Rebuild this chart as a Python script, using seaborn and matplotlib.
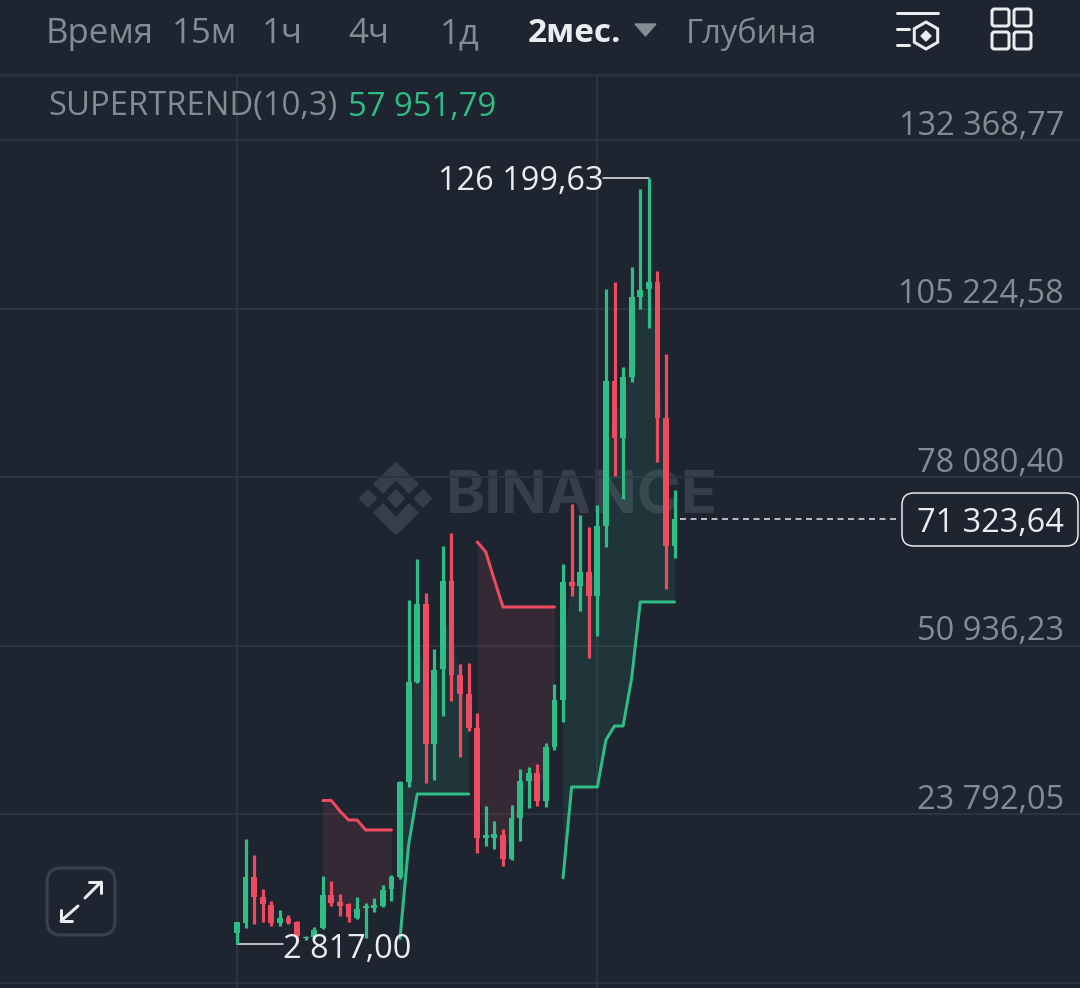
import numpy as np
import pandas as pd
import seaborn as sns
import matplotlib.pyplot as plt
from matplotlib.patches import FancyBboxPatch, Polygon, RegularPolygon

BG = "#1f2530"
GRID = "#2d333e"
GREEN = "#2ebd85"
RED = "#ee4a60"
GREY = "#858b95"
WHITE = "#eaecef"

# candles, one value per 2 month bar
opens = [4625, 6236, 13646, 10424, 9136, 6236, 7041, 6397, 3739, 3981,
         5430, 10746, 9619, 9297, 7041, 8653, 8653, 8975, 11713, 13646,
         28950, 45059, 57624, 35071, 47153, 61329, 46187, 43126, 37648, 19929,
         19929, 20412, 16546, 23150, 29111, 30400, 25889, 34588, 42159, 61168,
         60524, 62778, 58912, 70189, 93547, 84365, 94191, 107078, 108368, 109495,
         87586, 66967]
highs = [6397, 19767, 17190, 11713, 9780, 8330, 7525, 6500, 4142, 5592,
         13807, 13002, 10907, 9458, 10424, 9458, 10263, 12357, 13968, 29111,
         58268, 64873, 59396, 50375, 66967, 69061, 47959, 48120, 40065, 25083,
         22667, 21378, 25244, 31044, 31366, 31849, 35232, 44737, 64067, 73733,
         71961, 70028, 73572, 108368, 109495, 95802, 111911, 124476, 126199.63, 111266,
         97896, 75988]
lows = [2817, 5430, 6075, 6397, 5753, 5753, 6100, 3175, 3497, 3658,
        5269, 8975, 7364, 6397, 6880, 3739, 8008, 8814, 9780, 13324,
        28144, 44900, 28789, 29272, 39582, 41998, 32977, 37165, 17512, 18640,
        18156, 15418, 16400, 19445, 24761, 25083, 24922, 34105, 38615, 58912,
        56496, 48925, 52467, 66806, 78243, 74538, 93386, 105145, 102085, 80498,
        60040, 65034]
closes = [6397, 13646, 10424, 9297, 6236, 7041, 6236, 4142, 3981, 5108,
          10746, 9458, 8975, 7203, 8491, 8975, 9136, 11552, 13646, 28950,
          45059, 57624, 35071, 46992, 61329, 46187, 43126, 37648, 19929, 20412,
          20573, 16546, 23150, 29111, 30400, 25889, 34588, 42159, 61168, 60524,
          62778, 58912, 70189, 93547, 84365, 94191, 107078, 108206, 109495, 87586,
          66967, 71323.64]

# supertrend runs: first bar, direction, values
st_runs = [
    (10, "down", [25970, 25970, 24270, 22828, 22828, 21217, 21217, 21217, 21217]),
    (19, "up", [3739, 18801, 27016, 27016, 27016, 27016, 27016, 27016, 27016]),
    (28, "down", [67611, 66000, 61490, 57140, 57140, 57140, 57140, 57140, 57140, 57140]),
    (38, "up", [13485, 28144, 28144, 28144, 28144, 35715, 37970, 37970, 45703,
                57951.79, 57951.79, 57951.79, 57951.79, 57951.79]),
]

price_ticks = [132368.77, 105224.58, 78080.40, 50936.23, 23792.05, -3352.13]
price_labels = ["132 368,77", "105 224,58", "78 080,40", "50 936,23", "23 792,05"]
time_lines = [0, 42]
menu_items = ["Время", "15м", "1ч", "4ч", "1д", "2мес.", "Глубина"]
menu_x = [46, 172, 262, 348, 440, 528, 686]
menu_size = [25, 25, 25, 25, 25, 24, 23.6]

df = pd.DataFrame({"open": opens, "high": highs, "low": lows, "close": closes})
df["bar"] = df.index
df["color"] = np.where(df["close"] >= df["open"], GREEN, RED)
df["mid"] = (df["open"] + df["close"]) / 2

sns.set_theme(style="dark", rc={"figure.facecolor": BG, "axes.facecolor": BG})
plt.rcParams["font.family"] = ["Open Sans", "DejaVu Sans"]

fig = plt.figure(figsize=(10.8, 9.88), dpi=100)
px = 0.72  # one image pixel in points


def pixel_axes(z):
    a = fig.add_axes([0, 0, 1, 1], zorder=z)
    a.set_xlim(0, 1080)
    a.set_ylim(988, 0)
    a.axis("off")
    return a


back = pixel_axes(0)
ax = fig.add_axes([0, 0, 1, 1], zorder=1)
front = pixel_axes(2)

ax.patch.set_alpha(0)
ax.set_xlim(-27.62, 98.25)
ax.set_ylim(-4235, 154921.6)
ax.set_xticks([])
ax.set_yticks([])
for s in ax.spines.values():
    s.set_visible(False)

# grid
for p in price_ticks:
    ax.axhline(p, color=GRID, lw=2 * px, zorder=0)
for b in time_lines:
    ax.plot([b, b], [-4235, 142850], color=GRID, lw=2 * px, zorder=0)

# watermark
mark = "#383e49"
back.text(445, 498, "BINANCE", color=mark, fontsize=43, fontweight="bold", family="Inter", va="center", ha="left")
for cx, h in [(368, 8.5), (396, 8.5), (423, 8.5)]:
    back.add_patch(Polygon([(cx - h, 498.5), (cx, 498.5 - h), (cx + h, 498.5), (cx, 498.5 + h)], color=mark))
for sgn in (1, -1):
    chev = [(396, 498.5 - 36 * sgn), (418, 498.5 - 14 * sgn), (409, 498.5 - 5.5 * sgn), (396, 498.5 - 19 * sgn),
            (383, 498.5 - 5.5 * sgn), (374, 498.5 - 14 * sgn)]
    back.add_patch(Polygon(chev, color=mark))

# supertrend with its shading up to the candle body middle
for start, direction, values in st_runs:
    bars = np.arange(start, start + len(values))
    color = GREEN if direction == "up" else RED
    ax.fill_between(bars, values, df["mid"].values[bars], color=color, alpha=0.11, lw=0, zorder=1)
    sns.lineplot(x=bars, y=values, color=color, lw=3 * px, ax=ax, zorder=2, errorbar=None, estimator=None)

# candles
ax.vlines(df["bar"], df["low"], df["high"], colors=df["color"], lw=3.2 * px, zorder=3)
ax.bar(df["bar"], (df["close"] - df["open"]).abs(), bottom=df[["open", "close"]].min(axis=1),
       width=0.68, color=df["color"], lw=0, zorder=4)

# extreme labels, last price
ax.plot([42.6, 48], [126199.63, 126199.63], color=WHITE, lw=1.5 * px, zorder=2)
ax.plot([0, 5.4], [2817, 2817], color=WHITE, lw=1.5 * px, zorder=2)
ax.plot([51.6, 77.2], [71323.64, 71323.64], color=WHITE, lw=1.5 * px, ls=(0, (4, 3)), zorder=2)

fs = 23.4
front.text(604, 182, "126 199,63", color=WHITE, fontsize=fs, ha="right", va="center")
front.text(283, 949, "2 817,00", color=WHITE, fontsize=fs, ha="left", va="center")
for p, lab in zip(price_ticks, price_labels):
    y = (154921.6 - p) / 161.09
    front.text(1064, y - 14, lab, color=GREY, fontsize=fs, ha="right", va="center")

front.add_patch(FancyBboxPatch((902, 493), 176, 53, boxstyle="round,pad=0,rounding_size=12",
                               fc=BG, ec=WHITE, lw=1.5 * px))
front.text(1064, 523, "71 323,64", color=WHITE, fontsize=fs, ha="right", va="center")

front.text(48, 107, "SUPERTREND(10,3)", color=GREY, fontsize=23.6, ha="left", va="center")
front.text(348, 107, "57 951,79", color=GREEN, fontsize=23.6, ha="left", va="center")

# menu bar
for x, label, size in zip(menu_x, menu_items, menu_size):
    active = label == "2мес."
    front.text(x, 34, label, color=WHITE if active else GREY, fontsize=size,
               fontweight="bold" if active else "normal", ha="left", va="center")
front.add_patch(Polygon([(635, 24), (656, 24), (645.5, 36)], color=GREY))
back.plot([0, 1080], [75, 75], color="#292f3a", lw=3 * px)

# icons
lw_icon = 3 * px
front.plot([897, 938], [13, 13], color=WHITE, lw=lw_icon, solid_capstyle="round")
front.plot([897, 909], [29, 29], color=WHITE, lw=lw_icon, solid_capstyle="round")
front.plot([897, 909], [45, 45], color=WHITE, lw=lw_icon, solid_capstyle="round")
front.add_patch(RegularPolygon((926, 35.5), 6, radius=13.5, fill=False, ec=WHITE, lw=lw_icon))
front.add_patch(Polygon([(921, 36), (926, 31), (931, 36), (926, 41)], color=WHITE))
for x0 in (992, 1014):
    for y0 in (9, 32):
        front.add_patch(FancyBboxPatch((x0, y0), 17, 17, boxstyle="round,pad=0,rounding_size=2.5",
                                       fill=False, ec=WHITE, lw=lw_icon))

front.add_patch(FancyBboxPatch((47, 868), 68, 67, boxstyle="round,pad=0,rounding_size=14",
                               fill=False, ec="#3a404c", lw=lw_icon))
arrow = dict(color=WHITE, lw=lw_icon, solid_capstyle="round", solid_joinstyle="round")
front.plot([85, 101], [898, 882], **arrow)
front.plot([89, 101, 101], [882, 882, 893], **arrow)
front.plot([78, 61], [906, 921], **arrow)
front.plot([61, 61, 72], [910, 921, 921], **arrow)

fig.savefig("out.png", dpi=100, facecolor=BG)
